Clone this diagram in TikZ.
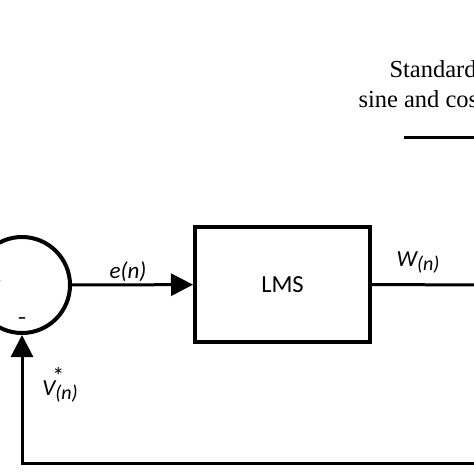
\documentclass[tikz,border=0pt]{standalone}
\usepackage{fontspec}
\setmainfont{Liberation Serif}
\newfontfamily\calibrifont{Carlito}
\usetikzlibrary{arrows.meta}
\tikzset{every picture/.style={line width=3pt}}

\begin{document}
\begin{tikzpicture}[x=1pt,y=1pt,yscale=-1,xscale=1,
  blk/.style={draw, line width=4pt, inner sep=0pt},
  sig/.style={line width=3pt, -{Triangle[length=22pt,width=22pt]}},
  lbl/.style={font=\calibrifont\itshape\fontsize{23}{23}\selectfont, inner sep=0pt},
  serif/.style={anchor=base west, inner sep=0pt, font=\fontsize{24.5}{24.5}\selectfont}]
\useasboundingbox (0,0) rectangle (474,474);
\clip (0,0) rectangle (474,474);

% Blocks
\node [blk, circle, minimum size=96pt] (sum) at (22,285) {};
\node [blk, minimum width=175pt, minimum height=115pt] (lms) at (282.5,284.5) {\calibrifont\fontsize{24.5}{24.5}\selectfont LMS};

% Signs
\node [inner sep=0pt, font=\calibrifont\bfseries\fontsize{18}{18}\selectfont] (minusL) at (-3,284) {–};
\node [inner sep=0pt, font=\calibrifont\bfseries\fontsize{18}{18}\selectfont] (minusB) at (22,321) {–};

% Connectors
\coordinate (out) at (480,285);
\coordinate (fb) at (480,463);
\coordinate (corner) at (22,463);
\draw [sig] (sum) -- (lms);
\draw (lms.east) -- (out);
\draw [sig] (fb) -- (corner) -- (sum);

% Labels
\node [lbl] (en) at (128,272) {e(n)};
\node [lbl] (wn) at (418,262) {W\raisebox{-4pt}{\fontsize{20}{20}\selectfont(n)}};
\node [lbl] (vn) at (60,385) {V\rlap{\kern-3pt\raisebox{11pt}{\fontsize{24}{24}\selectfont\upshape *}}\raisebox{-4pt}{\fontsize{20}{20}\selectfont(n)}};

% Top right
\node [serif] (std) at (388,77) {Standard};
\node [serif] (sine) at (357,107) {sine and cos};
\coordinate (ln) at (404,137);
\draw (ln) -- ++(80,0);

\end{tikzpicture}
\end{document}
